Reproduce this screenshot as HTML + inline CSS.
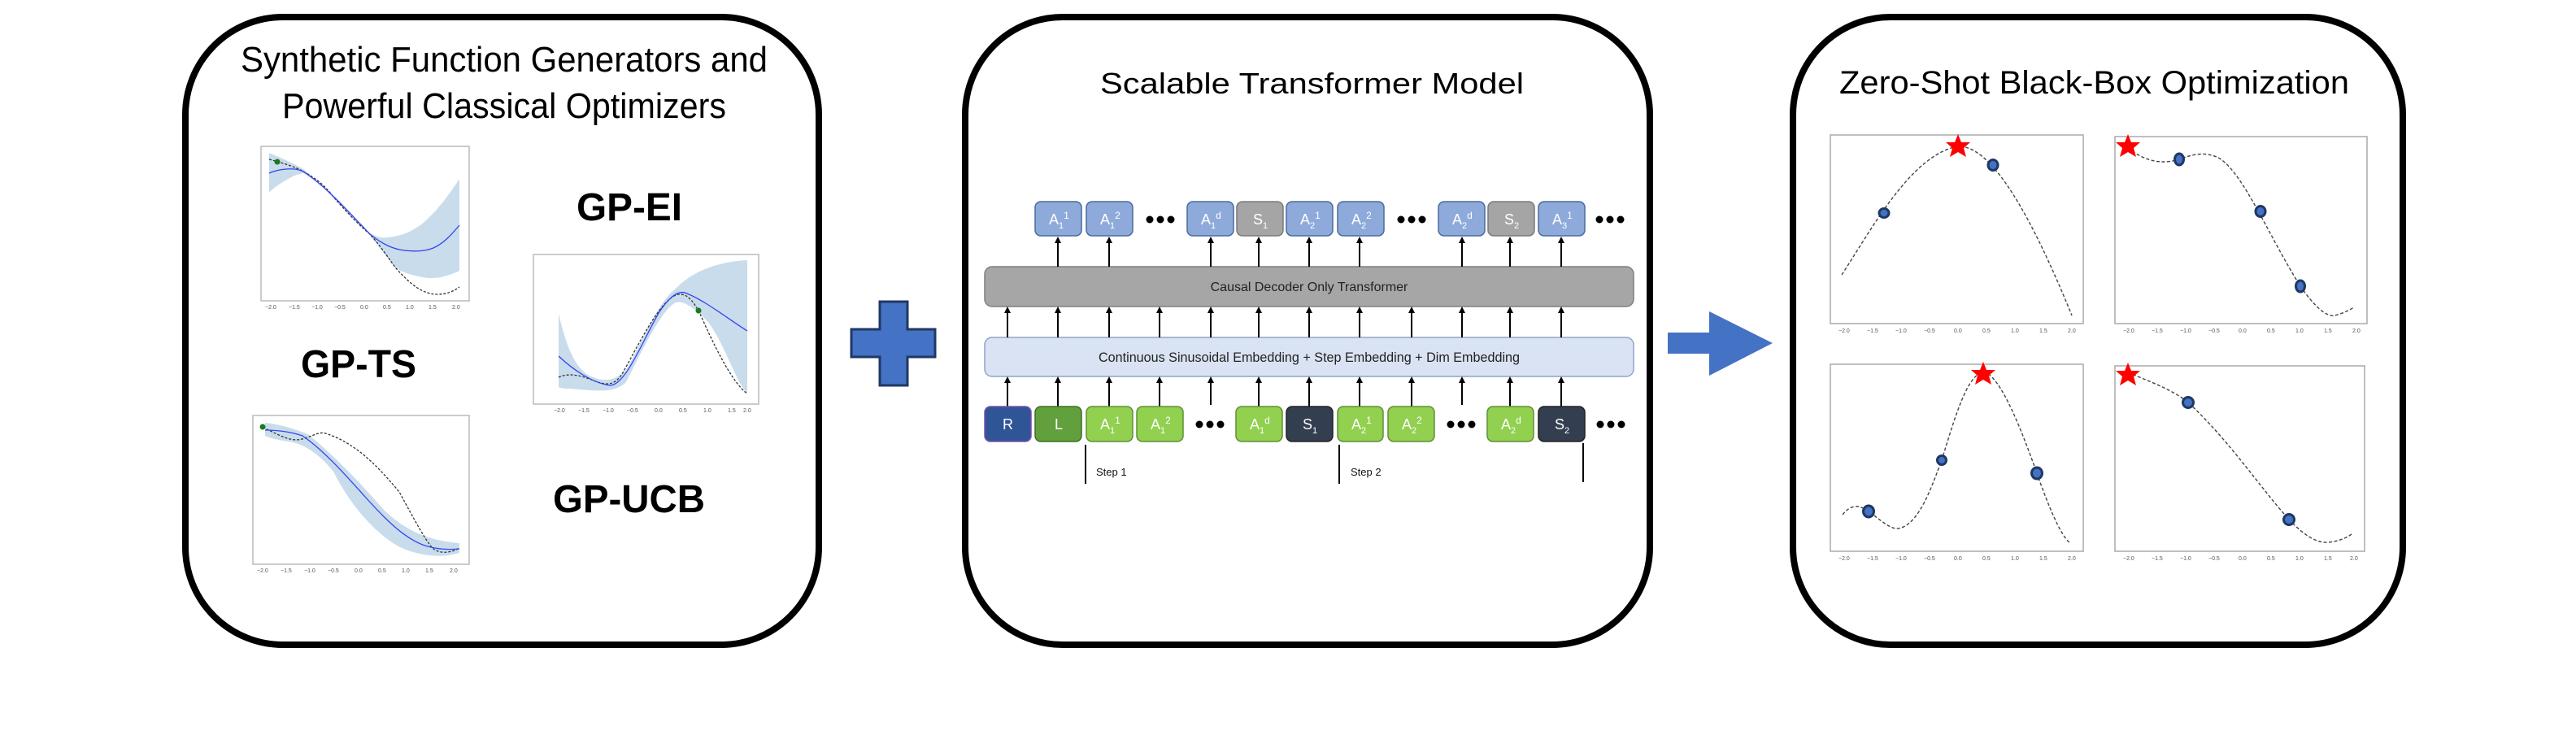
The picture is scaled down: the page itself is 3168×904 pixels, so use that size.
<!DOCTYPE html>
<html><head><meta charset="utf-8"><style>
html,body{margin:0;padding:0;background:#fff;width:3168px;height:904px;overflow:hidden}
svg{display:block}
.t{font-family:"Liberation Sans",sans-serif}
.tk{font-family:"Liberation Sans",sans-serif;font-size:7px;fill:#555}
.tok{font-family:"Liberation Sans",sans-serif;font-size:18px;fill:#fff}
</style></head><body>
<svg width="3168" height="904" viewBox="0 0 3168 904" xmlns="http://www.w3.org/2000/svg">
<!-- Boxes -->
<rect x="228" y="21" width="779" height="772" rx="120" fill="#fff" stroke="#000" stroke-width="8"/>
<rect x="1187" y="21" width="842" height="772" rx="120" fill="#fff" stroke="#000" stroke-width="8"/>
<rect x="2205" y="21" width="750" height="772" rx="120" fill="#fff" stroke="#000" stroke-width="8"/>

<!-- Titles -->
<text class="t" x="296" y="88" font-size="44" textLength="648" lengthAdjust="spacingAndGlyphs">Synthetic Function Generators and</text>
<text class="t" x="347" y="145" font-size="44" textLength="546" lengthAdjust="spacingAndGlyphs">Powerful Classical Optimizers</text>
<text class="t" x="1353" y="115" font-size="36" textLength="521" lengthAdjust="spacingAndGlyphs">Scalable Transformer Model</text>
<text class="t" x="2262" y="115" font-size="40" textLength="627" lengthAdjust="spacingAndGlyphs">Zero-Shot Black-Box Optimization</text>

<!-- GP labels -->
<text class="t" x="709" y="271" font-size="48" font-weight="bold" textLength="130" lengthAdjust="spacingAndGlyphs">GP-EI</text>
<text class="t" x="370" y="464" font-size="48" font-weight="bold" textLength="142" lengthAdjust="spacingAndGlyphs">GP-TS</text>
<text class="t" x="680" y="630" font-size="48" font-weight="bold" textLength="187" lengthAdjust="spacingAndGlyphs">GP-UCB</text>

<!-- Plot 1 (left top) -->
<rect x="321" y="180" width="256" height="190" fill="#fff" stroke="#bbb" stroke-width="1.5"/>
<path d="M331,188 C350,196 365,203 373,208 C410,240 440,280 455,287 C465,292 470,293 477,292 C495,290 505,285 517,277 C540,258 555,235 565,220 L565,333 C555,338 540,343 527,342 C510,340 495,335 487,330 C470,310 460,295 455,290 C420,250 390,222 373,213 C368,214 364,215 360,217 C345,225 335,232 331,237 Z" fill="#c8dcec"/>
<path d="M331,196 C350,201 365,206 373,211 C390,220 400,229 410,242 C430,265 445,280 455,288 C470,305 478,318 487,330 C505,350 520,362 538,362 C550,362 558,358 565,353" fill="none" stroke="#333" stroke-width="1.3" stroke-dasharray="3,2"/>
<path d="M331,213 C340,209 352,207 363,208 C368,209 371,210 373,211 C400,228 430,262 455,288 C470,300 482,306 497,308 C515,310 525,308 533,305 C548,298 558,285 565,277" fill="none" stroke="#3344ee" stroke-width="1.3"/>
<circle cx="341" cy="199" r="3.5" fill="#1a7a1a"/>
<g class="tk"><text x="326" y="380">−2.0</text><text x="355" y="380">−1.5</text><text x="383" y="380">−1.0</text><text x="411" y="380">−0.5</text><text x="443" y="380">0.0</text><text x="471" y="380">0.5</text><text x="499" y="380">1.0</text><text x="527" y="380">1.5</text><text x="556" y="380">2.0</text></g>

<!-- Plot 2 (EI) -->
<rect x="656" y="313" width="277" height="184" fill="#fff" stroke="#bbb" stroke-width="1.5"/>
<path d="M687,386 C695,420 705,450 723,461 C740,470 755,470 770,455 C790,420 810,370 831,355 C850,335 880,322 919,320 L919,484 C905,470 890,420 870,395 C850,375 840,370 831,372 C815,380 795,420 770,470 C755,485 730,480 700,478 C692,478 688,477 687,476 Z" fill="#c8dcec"/>
<path d="M687,464 C700,458 715,462 730,468 C745,474 755,475 765,460 C785,425 810,372 831,363 C845,358 855,372 865,395 C885,440 905,475 919,484" fill="none" stroke="#333" stroke-width="1.3" stroke-dasharray="3,2"/>
<path d="M687,438 C705,455 730,472 751,474 C770,472 790,420 810,385 C825,362 835,358 842,360 C865,368 895,392 919,407" fill="none" stroke="#3344ee" stroke-width="1.3"/>
<circle cx="859" cy="382" r="3.5" fill="#1a7a1a"/>
<g class="tk"><text x="681" y="507">−2.0</text><text x="711" y="507">−1.5</text><text x="741" y="507">−1.0</text><text x="771" y="507">−0.5</text><text x="805" y="507">0.0</text><text x="835" y="507">0.5</text><text x="865" y="507">1.0</text><text x="895" y="507">1.5</text><text x="914" y="507">2.0</text></g>

<!-- Plot 3 (UCB) -->
<rect x="311" y="511" width="266" height="183" fill="#fff" stroke="#bbb" stroke-width="1.5"/>
<path d="M326,520 C345,522 365,528 380,535 C410,560 440,590 470,625 C500,655 530,665 565,668 L565,680 C540,688 510,682 490,672 C460,655 430,620 410,580 C390,555 370,545 355,543 C340,541 330,538 326,536 Z" fill="#c8dcec"/>
<path d="M323,526 C335,530 350,541 365,541 C380,540 390,530 400,533 C440,545 470,580 491,605 C510,640 525,668 533,675 C540,680 548,680 555,678 C560,677 563,675 565,674" fill="none" stroke="#333" stroke-width="1.3" stroke-dasharray="3,2"/>
<path d="M326,529 C345,529 360,532 372,536 C400,555 430,590 449,611 C475,640 500,665 526,672 C540,676 555,676 565,675" fill="none" stroke="#3344ee" stroke-width="1.3"/>
<circle cx="323" cy="525" r="3.5" fill="#1a7a1a"/>
<g class="tk"><text x="316" y="704">−2.0</text><text x="345" y="704">−1.5</text><text x="374" y="704">−1.0</text><text x="403" y="704">−0.5</text><text x="436" y="704">0.0</text><text x="465" y="704">0.5</text><text x="494" y="704">1.0</text><text x="523" y="704">1.5</text><text x="553" y="704">2.0</text></g>

<!-- Plus -->
<path d="M1082,371 H1116 V405 H1150 V439 H1116 V474 H1082 V439 H1047 V405 H1082 Z" fill="#4472c4" stroke="#1f3864" stroke-width="3"/>

<!-- Arrow -->
<path d="M2051,409 H2102 V383 L2180,422 L2102,462 V435 H2051 Z" fill="#4472c4"/>

<!-- Transformer middle -->
<rect x="1211" y="328" width="798" height="49" rx="9" fill="#a6a6a6" stroke="#7f7f7f" stroke-width="1.5"/>
<text class="t" x="1610" y="358" font-size="16" text-anchor="middle" fill="#222">Causal Decoder Only Transformer</text>
<rect x="1211" y="415" width="798" height="48" rx="9" fill="#dae3f3" stroke="#8fa4c7" stroke-width="1.5"/>
<text class="t" x="1610" y="445" font-size="17" text-anchor="middle" fill="#222" textLength="518" lengthAdjust="spacingAndGlyphs">Continuous Sinusoidal Embedding + Step Embedding + Dim Embedding</text>

<defs><marker id="ah" markerWidth="8" markerHeight="8" refX="4" refY="4" orient="auto" markerUnits="userSpaceOnUse"><path d="M0,0 L8,4 L0,8 Z" fill="#000"/></marker></defs>
<g stroke="#000" stroke-width="2" marker-end="url(#ah)">
<!-- bottom -> embedding -->
<line x1="1239" y1="500" x2="1239" y2="467"/><line x1="1301" y1="500" x2="1301" y2="467"/><line x1="1364" y1="500" x2="1364" y2="467"/><line x1="1426" y1="500" x2="1426" y2="467"/><line x1="1489" y1="498" x2="1489" y2="467"/><line x1="1548" y1="500" x2="1548" y2="467"/><line x1="1610" y1="500" x2="1610" y2="467"/><line x1="1672" y1="500" x2="1672" y2="467"/><line x1="1736" y1="500" x2="1736" y2="467"/><line x1="1798" y1="498" x2="1798" y2="467"/><line x1="1857" y1="500" x2="1857" y2="467"/><line x1="1920" y1="500" x2="1920" y2="467"/>
<!-- embedding -> transformer -->
<line x1="1239" y1="415" x2="1239" y2="381"/><line x1="1301" y1="415" x2="1301" y2="381"/><line x1="1364" y1="415" x2="1364" y2="381"/><line x1="1426" y1="415" x2="1426" y2="381"/><line x1="1489" y1="415" x2="1489" y2="381"/><line x1="1548" y1="415" x2="1548" y2="381"/><line x1="1610" y1="415" x2="1610" y2="381"/><line x1="1672" y1="415" x2="1672" y2="381"/><line x1="1736" y1="415" x2="1736" y2="381"/><line x1="1798" y1="415" x2="1798" y2="381"/><line x1="1857" y1="415" x2="1857" y2="381"/><line x1="1920" y1="415" x2="1920" y2="381"/>
<!-- transformer -> top -->
<line x1="1301" y1="328" x2="1301" y2="295"/><line x1="1364" y1="328" x2="1364" y2="295"/><line x1="1489" y1="328" x2="1489" y2="295"/><line x1="1548" y1="328" x2="1548" y2="295"/><line x1="1610" y1="328" x2="1610" y2="295"/><line x1="1672" y1="328" x2="1672" y2="295"/><line x1="1798" y1="328" x2="1798" y2="295"/><line x1="1857" y1="328" x2="1857" y2="295"/><line x1="1920" y1="328" x2="1920" y2="295"/>
</g>

<!-- Top tokens -->
<g stroke="#4a6aa0" stroke-width="1.5" fill="#8eaadb">
<rect x="1273" y="248" width="57" height="42" rx="7"/><rect x="1336" y="248" width="57" height="42" rx="7"/>
<rect x="1460" y="248" width="57" height="42" rx="7"/>
<rect x="1521" y="248" width="57" height="42" rx="7" fill="#a5a5a5" stroke="#7a7a7a"/>
<rect x="1582" y="248" width="57" height="42" rx="7"/><rect x="1645" y="248" width="57" height="42" rx="7"/>
<rect x="1769" y="248" width="57" height="42" rx="7"/>
<rect x="1830" y="248" width="57" height="42" rx="7" fill="#a5a5a5" stroke="#7a7a7a"/>
<rect x="1892" y="248" width="57" height="42" rx="7"/>
</g>
<g class="tok">
<text x="1290" y="276">A<tspan font-size="11" dy="5">1</tspan><tspan font-size="12" dy="-12">1</tspan></text>
<text x="1353" y="276">A<tspan font-size="11" dy="5">1</tspan><tspan font-size="12" dy="-12">2</tspan></text>
<text x="1477" y="276">A<tspan font-size="11" dy="5">1</tspan><tspan font-size="12" dy="-12">d</tspan></text>
<text x="1541" y="276">S<tspan font-size="11" dy="5">1</tspan></text>
<text x="1599" y="276">A<tspan font-size="11" dy="5">2</tspan><tspan font-size="12" dy="-12">1</tspan></text>
<text x="1662" y="276">A<tspan font-size="11" dy="5">2</tspan><tspan font-size="12" dy="-12">2</tspan></text>
<text x="1786" y="276">A<tspan font-size="11" dy="5">2</tspan><tspan font-size="12" dy="-12">d</tspan></text>
<text x="1850" y="276">S<tspan font-size="11" dy="5">2</tspan></text>
<text x="1909" y="276">A<tspan font-size="11" dy="5">3</tspan><tspan font-size="12" dy="-12">1</tspan></text>
</g>
<g fill="#000">
<circle cx="1414" cy="270" r="4.5"/><circle cx="1427" cy="270" r="4.5"/><circle cx="1440" cy="270" r="4.5"/>
<circle cx="1723" cy="270" r="4.5"/><circle cx="1736" cy="270" r="4.5"/><circle cx="1749" cy="270" r="4.5"/>
<circle cx="1967" cy="270" r="4.5"/><circle cx="1980" cy="270" r="4.5"/><circle cx="1993" cy="270" r="4.5"/>
<circle cx="1475" cy="522" r="4.5"/><circle cx="1488" cy="522" r="4.5"/><circle cx="1501" cy="522" r="4.5"/>
<circle cx="1784" cy="522" r="4.5"/><circle cx="1797" cy="522" r="4.5"/><circle cx="1810" cy="522" r="4.5"/>
<circle cx="1968" cy="522" r="4.5"/><circle cx="1981" cy="522" r="4.5"/><circle cx="1994" cy="522" r="4.5"/>
</g>

<!-- Bottom tokens -->
<g stroke-width="1.5">
<rect x="1211" y="500" width="57" height="43" rx="7" fill="#2f5597" stroke="#7a4fb0"/>
<rect x="1273" y="500" width="57" height="43" rx="7" fill="#62a03e" stroke="#3e6e26"/>
<g fill="#92d050" stroke="#5f8f36">
<rect x="1336" y="500" width="57" height="43" rx="7"/><rect x="1398" y="500" width="57" height="43" rx="7"/>
<rect x="1520" y="500" width="57" height="43" rx="7"/>
<rect x="1645" y="500" width="56" height="43" rx="7"/><rect x="1707" y="500" width="57" height="43" rx="7"/>
<rect x="1829" y="500" width="57" height="43" rx="7"/>
</g>
<rect x="1582" y="500" width="57" height="43" rx="7" fill="#333f50" stroke="#222"/>
<rect x="1892" y="500" width="57" height="43" rx="7" fill="#333f50" stroke="#222"/>
</g>
<g class="tok">
<text x="1233" y="528">R</text><text x="1297" y="528">L</text>
<text x="1353" y="528">A<tspan font-size="11" dy="5">1</tspan><tspan font-size="12" dy="-12">1</tspan></text>
<text x="1415" y="528">A<tspan font-size="11" dy="5">1</tspan><tspan font-size="12" dy="-12">2</tspan></text>
<text x="1537" y="528">A<tspan font-size="11" dy="5">1</tspan><tspan font-size="12" dy="-12">d</tspan></text>
<text x="1602" y="528">S<tspan font-size="11" dy="5">1</tspan></text>
<text x="1662" y="528">A<tspan font-size="11" dy="5">2</tspan><tspan font-size="12" dy="-12">1</tspan></text>
<text x="1724" y="528">A<tspan font-size="11" dy="5">2</tspan><tspan font-size="12" dy="-12">2</tspan></text>
<text x="1846" y="528">A<tspan font-size="11" dy="5">2</tspan><tspan font-size="12" dy="-12">d</tspan></text>
<text x="1912" y="528">S<tspan font-size="11" dy="5">2</tspan></text>
</g>
<!-- Steps -->
<g stroke="#000" stroke-width="2">
<line x1="1335" y1="547" x2="1335" y2="595"/><line x1="1647" y1="547" x2="1647" y2="595"/><line x1="1947" y1="545" x2="1947" y2="593"/>
</g>
<text class="t" x="1348" y="585" font-size="13" fill="#111">Step 1</text>
<text class="t" x="1661" y="585" font-size="13" fill="#111">Step 2</text>

<!-- Right plots -->
<g fill="#fff" stroke="#aaa" stroke-width="1.5">
<rect x="2251" y="166" width="311" height="232"/><rect x="2601" y="168" width="310" height="230"/>
<rect x="2251" y="448" width="311" height="230"/><rect x="2601" y="450" width="307" height="228"/>
</g>
<g fill="none" stroke="#444" stroke-width="1.4" stroke-dasharray="4,2.5">
<path d="M2265,338 C2300,285 2350,190 2408,180 C2450,178 2500,270 2548,388"/>
<path d="M2617,182 C2640,200 2660,202 2680,196 C2700,188 2715,187 2730,195 C2760,215 2790,290 2829,352 C2845,375 2860,390 2871,388 C2880,386 2888,382 2895,378"/>
<path d="M2266,633 C2270,628 2276,622 2285,623 C2300,625 2320,652 2335,650 C2360,645 2375,600 2388,566 C2405,510 2420,460 2439,458 C2460,458 2490,540 2505,582 C2520,625 2535,660 2546,668"/>
<path d="M2617,458 C2640,468 2670,478 2691,495 C2740,540 2780,600 2815,639 C2835,660 2850,668 2863,667 C2875,666 2885,662 2892,657"/>
</g>
<g fill="#4472c4" stroke="#1f3864" stroke-width="3">
<ellipse cx="2317" cy="262" rx="6" ry="5.5"/><ellipse cx="2451" cy="203" rx="6" ry="6.5"/>
<ellipse cx="2680" cy="196" rx="5.5" ry="7"/><ellipse cx="2780" cy="260" rx="6" ry="6.5"/><ellipse cx="2829" cy="352" rx="5.5" ry="7"/>
<ellipse cx="2298" cy="629" rx="6.5" ry="7"/><ellipse cx="2388" cy="566" rx="5.5" ry="5.5"/><ellipse cx="2505" cy="582" rx="6.5" ry="7"/>
<ellipse cx="2691" cy="495" rx="6.5" ry="6.5"/><ellipse cx="2815" cy="639" rx="6.5" ry="6.5"/>
</g>
<g fill="#ff0000">
<polygon points="2408,165 2412,175 2423,175 2415,182 2418,193 2408,187 2398,193 2401,182 2393,175 2404,175"/>
<polygon points="2617,165 2621,175 2632,175 2624,182 2627,193 2617,187 2607,193 2610,182 2602,175 2613,175"/>
<polygon points="2439,445 2443,455 2454,455 2446,462 2449,473 2439,467 2429,473 2432,462 2424,455 2435,455"/>
<polygon points="2617,446 2621,456 2632,456 2624,463 2627,474 2617,468 2607,474 2610,463 2602,456 2613,456"/>
</g>
<g class="tk">
<text x="2261" y="409">−2.0</text><text x="2296" y="409">−1.5</text><text x="2331" y="409">−1.0</text><text x="2366" y="409">−0.5</text><text x="2403" y="409">0.0</text><text x="2438" y="409">0.5</text><text x="2473" y="409">1.0</text><text x="2508" y="409">1.5</text><text x="2543" y="409">2.0</text>
<text x="2611" y="409">−2.0</text><text x="2646" y="409">−1.5</text><text x="2681" y="409">−1.0</text><text x="2716" y="409">−0.5</text><text x="2753" y="409">0.0</text><text x="2788" y="409">0.5</text><text x="2823" y="409">1.0</text><text x="2858" y="409">1.5</text><text x="2893" y="409">2.0</text>
<text x="2261" y="689">−2.0</text><text x="2296" y="689">−1.5</text><text x="2331" y="689">−1.0</text><text x="2366" y="689">−0.5</text><text x="2403" y="689">0.0</text><text x="2438" y="689">0.5</text><text x="2473" y="689">1.0</text><text x="2508" y="689">1.5</text><text x="2543" y="689">2.0</text>
<text x="2611" y="689">−2.0</text><text x="2646" y="689">−1.5</text><text x="2681" y="689">−1.0</text><text x="2716" y="689">−0.5</text><text x="2753" y="689">0.0</text><text x="2788" y="689">0.5</text><text x="2823" y="689">1.0</text><text x="2858" y="689">1.5</text><text x="2890" y="689">2.0</text>
</g>
</svg>
</body></html>
